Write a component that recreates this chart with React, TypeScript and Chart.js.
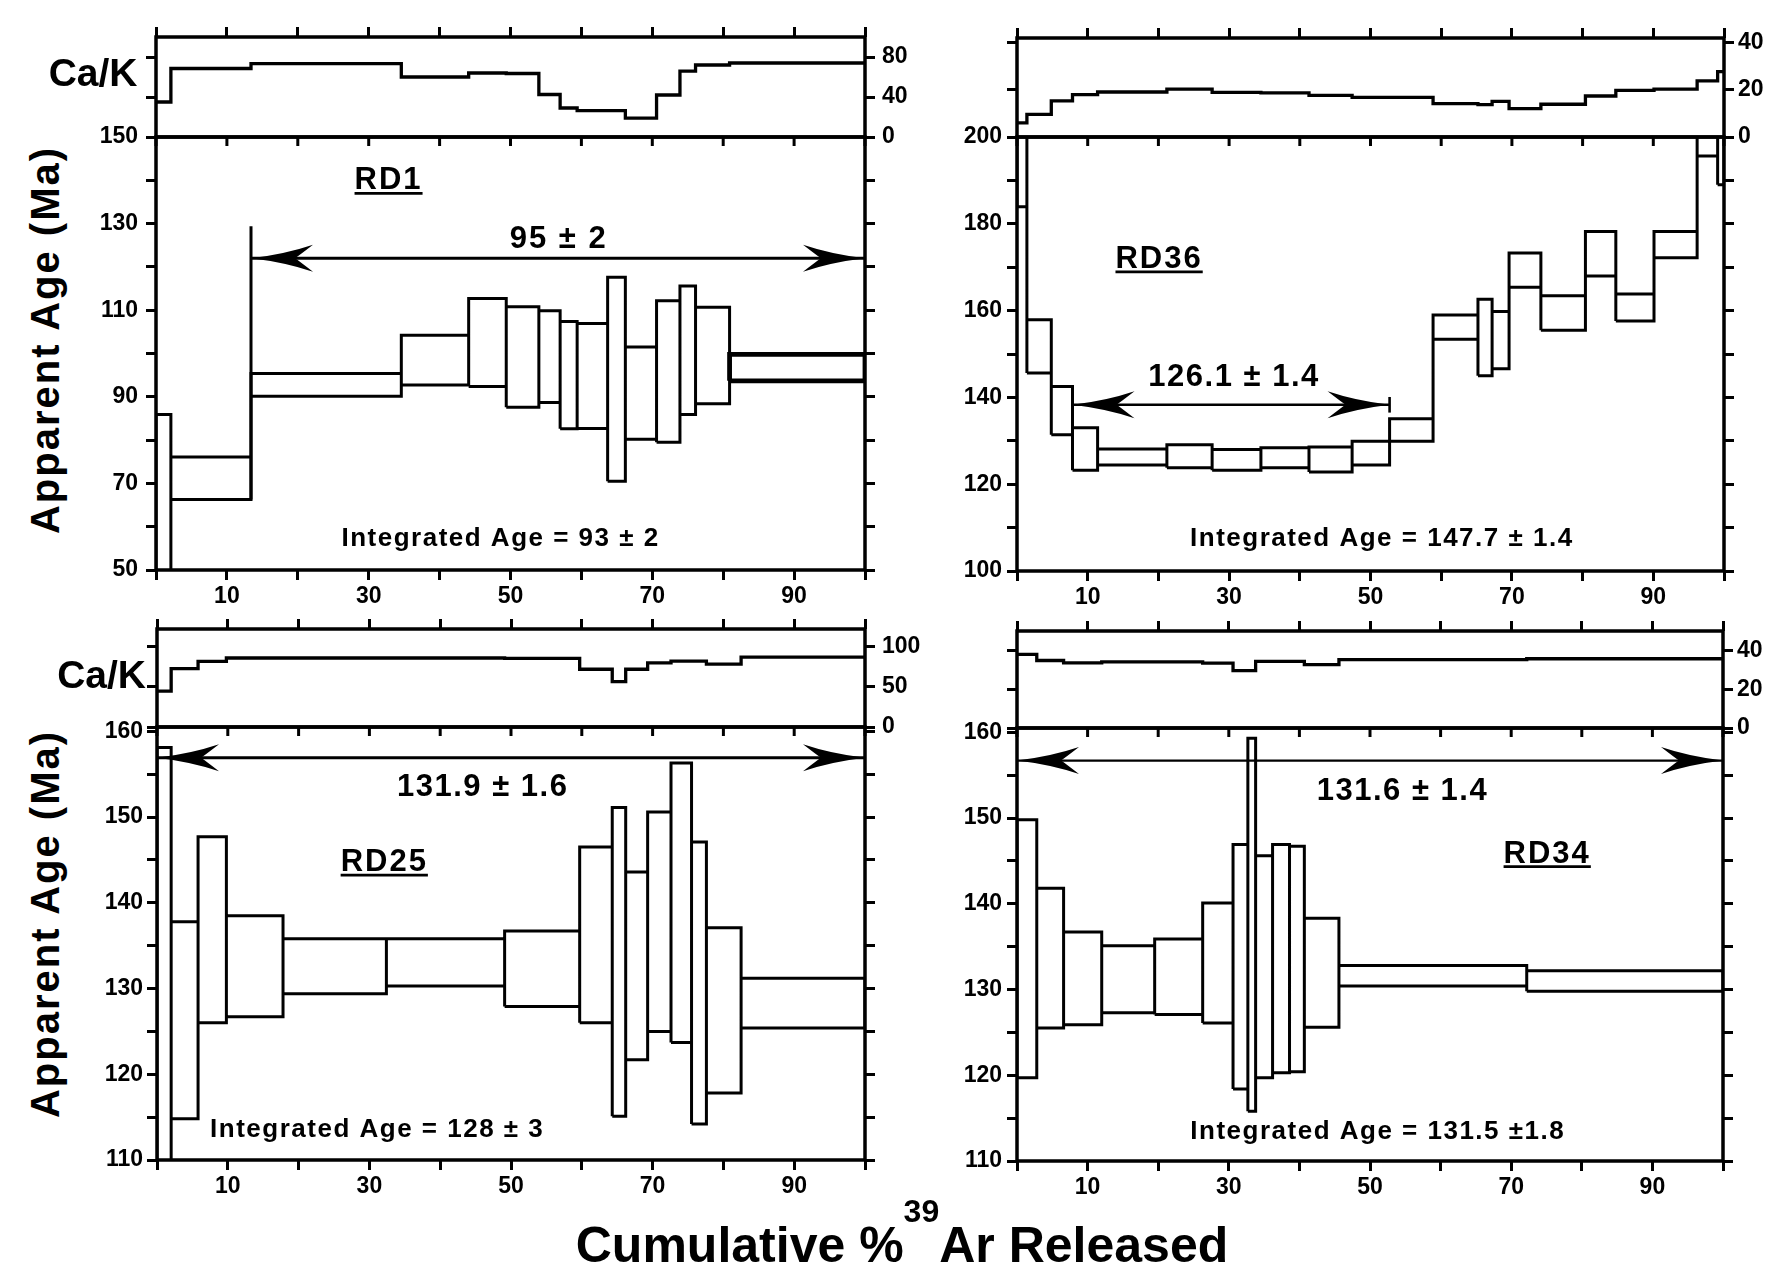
import React, { useEffect, useRef } from 'react';
import { Chart, registerables } from 'chart.js';

Chart.register(...registerables);

const FONT = '"Liberation Sans", Arial, Helvetica, sans-serif';

// ---------------- RD1 (top-left) ----------------
const rd1Steps = [0, 2.1, 13.4, 34.6, 44.1, 49.4, 54.0, 57.0, 59.4, 63.7, 66.2, 70.6, 73.9, 76.1, 80.9, 100];
const rd1AgeLow = [45, 66.3, 90.1, 92.7, 92.4, 87.6, 88.7, 82.6, 82.7, 70.5, 80.2, 79.5, 85.9, 88.4, 93.7];
const rd1AgeHigh = [85.9, 76.1, 95.4, 104.2, 112.7, 110.8, 109.9, 107.4, 106.9, 117.6, 101.5, 112.2, 115.6, 110.7, 99.8];
const rd1CaK = [35, 68.5, 73.3, 60, 64, 63.5, 42.5, 29, 26.3, 26.3, 18.8, 42, 65.8, 72, 74];
const rd1Plateau = [13.4, 100, 122];
const rd1Marker = [13.4, 66.3, 129.4];

// ---------------- RD36 (top-right) ----------------
const rd36Steps = [0, 1.4, 4.85, 7.85, 11.4, 21.2, 27.6, 34.5, 41.3, 47.4, 52.7, 58.85, 65.2, 67.2, 69.6, 74.1, 80.4, 84.7, 90.1, 96.2, 99.1, 100];
const rd36AgeLow = [183.9, 145.6, 131.4, 123.2, 124.4, 123.8, 123.2, 123.8, 122.8, 124.4, 129.9, 153.4, 145.0, 146.6, 165.4, 155.5, 168.0, 157.6, 172.2, 195.6, 189.0];
const rd36AgeHigh = [215, 157.9, 142.5, 133.0, 128.1, 129.1, 128.0, 128.4, 128.6, 129.9, 135.1, 159.0, 162.6, 159.8, 173.3, 163.4, 178.2, 163.8, 178.2, 215, 215];
const rd36CaK = [6.0, 9.6, 15.3, 18.0, 19.1, 20.3, 18.9, 18.7, 17.7, 16.8, 16.8, 14.2, 13.7, 15.1, 12.0, 13.9, 17.4, 19.8, 20.3, 23.8, 27.7];
const rd36Plateau = [7.85, 52.7, 138.3];
const rd36EndTick = [52.7, 136.5, 140.1];

// ---------------- RD25 (bottom-left) ----------------
const rd25Steps = [0, 2.0, 5.8, 9.8, 17.8, 32.4, 49.1, 59.7, 64.3, 66.2, 69.3, 72.6, 75.5, 77.6, 82.5, 100];
const rd25AgeLow = [105, 114.8, 126.0, 126.7, 129.4, 130.3, 127.9, 126.0, 115.1, 121.7, 125.0, 123.7, 114.2, 117.8, 125.4];
const rd25AgeHigh = [158.1, 137.8, 147.7, 138.5, 135.8, 135.8, 136.7, 146.5, 151.1, 143.6, 150.6, 156.3, 147.1, 137.1, 131.2];
const rd25CaK = [44.6, 72.7, 81.6, 85.9, 85.9, 85.9, 85.5, 71.9, 56.6, 71.9, 79.9, 81.9, 81.9, 78.3, 87.1];
const rd25Plateau = [0, 100, 156.9];

// ---------------- RD34 (bottom-right) ----------------
const rd34Steps = [0, 2.8, 6.6, 12.0, 19.5, 26.3, 30.6, 32.7, 33.8, 36.2, 38.6, 40.7, 45.6, 72.2, 100];
const rd34AgeLow = [119.7, 125.5, 125.9, 127.3, 127.1, 126.1, 118.4, 115.8, 119.7, 120.3, 120.4, 125.6, 130.4, 129.8];
const rd34AgeHigh = [149.8, 141.8, 136.7, 135.1, 135.9, 140.1, 146.9, 159.3, 145.6, 146.9, 146.7, 138.3, 132.8, 132.2];
const rd34CaK = [38, 34.8, 33.6, 34.1, 34.1, 33.4, 29.6, 29.6, 34.3, 34.3, 34.3, 32.7, 35.2, 35.7];
const rd34Plateau = [0, 100, 156.7];

// x ticks every 10, labels on 10, 30, 50, 70, 90
const xTickStep = 10;

type Note = { text: string; x: number; y: number; size: number; spacing: number; underline?: boolean };

type Panel = {
  steps: number[]; low: number[]; high: number[]; cak: number[];
  plateau: number[]; marker: number[] | null; endTick: number[] | null;
  ageMin: number; ageMax: number; ageStep: number; labelBase: number; labelStep: number;
  cakMax: number; cakStep: number;
  plotL: number; plotR: number; caTop: number; mid: number; bottom: number;
  yPad: number; rPad: number; shaftWidth: number; lastBoxWidth: number;
  notes: Note[];
};

const PANELS: Panel[] = [
  {
    steps: rd1Steps, low: rd1AgeLow, high: rd1AgeHigh, cak: rd1CaK,
    plateau: rd1Plateau, marker: rd1Marker, endTick: null,
    ageMin: 50, ageMax: 150, ageStep: 10, labelBase: 50, labelStep: 20,
    cakMax: 100, cakStep: 40,
    plotL: 156, plotR: 865, caTop: 37, mid: 137, bottom: 570,
    yPad: 8, rPad: 7, shaftWidth: 3, lastBoxWidth: 4.8,
    notes: [
      { text: 'RD1', x: 32.8, y: 140.5, size: 31, spacing: 2, underline: true },
      { text: '95 ± 2', x: 56.8, y: 127, size: 31, spacing: 2 },
      { text: 'Integrated Age = 93 ± 2', x: 48.6, y: 57.7, size: 26, spacing: 1.5 },
    ],
  },
  {
    steps: rd36Steps, low: rd36AgeLow, high: rd36AgeHigh, cak: rd36CaK,
    plateau: rd36Plateau, marker: null, endTick: rd36EndTick,
    ageMin: 100, ageMax: 200, ageStep: 10, labelBase: 100, labelStep: 20,
    cakMax: 42, cakStep: 20,
    plotL: 1017, plotR: 1724, caTop: 38, mid: 137, bottom: 571,
    yPad: 5, rPad: 4, shaftWidth: 2.4, lastBoxWidth: 0,
    notes: [
      { text: 'RD36', x: 20.1, y: 172.4, size: 31, spacing: 2, underline: true },
      { text: '126.1 ± 1.4', x: 30.7, y: 145.2, size: 31, spacing: 1.5 },
      { text: 'Integrated Age = 147.7 ± 1.4', x: 51.6, y: 108, size: 26, spacing: 1.5 },
    ],
  },
  {
    steps: rd25Steps, low: rd25AgeLow, high: rd25AgeHigh, cak: rd25CaK,
    plateau: rd25Plateau, marker: null, endTick: null,
    ageMin: 110, ageMax: 160.5, ageStep: 5, labelBase: 110, labelStep: 10,
    cakMax: 122, cakStep: 50,
    plotL: 157, plotR: 865, caTop: 629, mid: 727, bottom: 1160,
    yPad: 4, rPad: 7, shaftWidth: 3, lastBoxWidth: 0,
    notes: [
      { text: 'RD25', x: 32.1, y: 145, size: 31, spacing: 2, underline: true },
      { text: '131.9 ± 1.6', x: 46, y: 153.7, size: 31, spacing: 1.5 },
      { text: 'Integrated Age = 128 ± 3', x: 31.1, y: 113.8, size: 26, spacing: 1.5 },
    ],
  },
  {
    steps: rd34Steps, low: rd34AgeLow, high: rd34AgeHigh, cak: rd34CaK,
    plateau: rd34Plateau, marker: null, endTick: null,
    ageMin: 110, ageMax: 160.5, ageStep: 5, labelBase: 110, labelStep: 10,
    cakMax: 50, cakStep: 20,
    plotL: 1017, plotR: 1723, caTop: 631, mid: 728, bottom: 1161,
    yPad: 5, rPad: 4, shaftWidth: 2.4, lastBoxWidth: 0,
    notes: [
      { text: 'RD34', x: 75.1, y: 146.1, size: 31, spacing: 2, underline: true },
      { text: '131.6 ± 1.4', x: 54.6, y: 153.4, size: 31, spacing: 1.5 },
      { text: 'Integrated Age = 131.5 ±1.8', x: 51.1, y: 113.6, size: 26, spacing: 1.5 },
    ],
  },
];

// canvas geometry (margins around each plot area)
const AGE = { PL: 80, PR: 24, PB: 52, PADT: 32 };
const CAK = { PL: 80, PR: 70, PT: 32, PADB: 32 };

function ageRect(p: Panel) {
  return {
    left: p.plotL - AGE.PL,
    top: p.mid - AGE.PADT,
    width: p.plotR - p.plotL + AGE.PL + AGE.PR,
    height: p.bottom - p.mid + AGE.PADT + AGE.PB,
  };
}
function cakRect(p: Panel) {
  return {
    left: p.plotL - CAK.PL,
    top: p.caTop - CAK.PT,
    width: p.plotR - p.plotL + CAK.PL + CAK.PR,
    height: p.mid - p.caTop + CAK.PT + CAK.PADB,
  };
}

function onePoly(x0: number, x1: number, lo: number, hi: number) {
  return [{ x: x0, y: lo }, { x: x0, y: hi }, { x: x1, y: hi }, { x: x1, y: lo }, { x: x0, y: lo }, { x: x1, y: null }];
}

// boxes (closed outlines) plus vertical connectors between neighbouring steps
function boxPoints(steps: number[], low: number[], high: number[]) {
  const pts: any[] = [];
  for (let i = 0; i < low.length; i++) {
    pts.push(...onePoly(steps[i], steps[i + 1], low[i], high[i]));
    if (i > 0) {
      pts.push({ x: steps[i], y: Math.min(low[i - 1], low[i]) }, { x: steps[i], y: Math.max(high[i - 1], high[i]) }, { x: steps[i], y: null });
    }
  }
  return pts;
}
function stepPoints(steps: number[], vals: number[]) {
  const pts = vals.map((v, i) => ({ x: steps[i], y: v }));
  pts.push({ x: steps[steps.length - 1], y: vals[vals.length - 1] });
  return pts;
}

const tickFont = { family: FONT, size: 23, weight: 'bold' as const };
const gridOpts = { drawOnChartArea: false, drawTicks: true, tickLength: 10, color: '#000', lineWidth: 3 };

function framePlugin(innerTop: boolean) {
  return {
    id: 'frame',
    afterDraw(chart: any) {
      const { ctx, chartArea: a } = chart;
      ctx.save();
      ctx.strokeStyle = '#000';
      ctx.lineWidth = 3.5;
      ctx.strokeRect(a.left, a.top, a.right - a.left, a.bottom - a.top);
      if (innerTop) {
        const xs = chart.scales.x;
        ctx.lineWidth = 3;
        xs.ticks.forEach((t: any) => {
          const px = xs.getPixelForValue(t.value);
          ctx.beginPath();
          ctx.moveTo(px, a.top);
          ctx.lineTo(px, a.top + 9);
          ctx.stroke();
        });
      }
      ctx.restore();
    },
  };
}

function drawHead(ctx: CanvasRenderingContext2D, tipX: number, y: number, dir: number) {
  const L = 62, H = 13.5, N = 44;
  ctx.beginPath();
  ctx.moveTo(tipX, y);
  ctx.quadraticCurveTo(tipX + dir * L * 0.55, y - H * 0.3, tipX + dir * L, y - H);
  ctx.quadraticCurveTo(tipX + dir * (N + 4), y - H * 0.2, tipX + dir * N, y);
  ctx.quadraticCurveTo(tipX + dir * (N + 4), y + H * 0.2, tipX + dir * L, y + H);
  ctx.quadraticCurveTo(tipX + dir * L * 0.55, y + H * 0.3, tipX, y);
  ctx.closePath();
  ctx.fill();
}

function notesPlugin(p: Panel) {
  return {
    id: 'notes',
    afterDatasetsDraw(chart: any) {
      const { ctx } = chart;
      const xs = chart.scales.x, ys = chart.scales.y;
      ctx.save();
      ctx.fillStyle = '#000';
      ctx.strokeStyle = '#000';
      const ay = ys.getPixelForValue(p.plateau[2]);
      drawHead(ctx, xs.getPixelForValue(p.plateau[0]), ay, 1);
      drawHead(ctx, xs.getPixelForValue(p.plateau[1]), ay, -1);
      for (const n of p.notes) {
        ctx.font = `bold ${n.size}px ${FONT}`;
        (ctx as any).letterSpacing = `${n.spacing}px`;
        ctx.textAlign = 'center';
        ctx.textBaseline = 'alphabetic';
        const px = xs.getPixelForValue(n.x);
        const py = ys.getPixelForValue(n.y) + n.size * 0.36;
        ctx.fillText(n.text, px, py);
        if (n.underline) {
          const w = ctx.measureText(n.text).width;
          ctx.lineWidth = 2.8;
          ctx.beginPath();
          ctx.moveTo(px - w / 2, py + 4);
          ctx.lineTo(px + w / 2, py + 4);
          ctx.stroke();
        }
      }
      ctx.restore();
    },
  };
}

function lineDs(data: any[], width: number) {
  return { data, borderColor: '#000', borderWidth: width, pointRadius: 0, tension: 0, fill: false, borderJoinStyle: 'miter', spanGaps: false };
}

function makeAgeChart(canvas: HTMLCanvasElement, p: Panel) {
  const n = p.low.length;
  const datasets: any[] = [
    lineDs(boxPoints(p.steps, p.low, p.high), 3),
    lineDs([{ x: p.plateau[0], y: p.plateau[2] }, { x: p.plateau[1], y: p.plateau[2] }], p.shaftWidth),
  ];
  if (p.lastBoxWidth > 0) datasets.push(lineDs(onePoly(p.steps[n - 1], p.steps[n], p.low[n - 1], p.high[n - 1]), p.lastBoxWidth));
  if (p.marker) datasets.push(lineDs([{ x: p.marker[0], y: p.marker[1] }, { x: p.marker[0], y: p.marker[2] }], 3));
  if (p.endTick) datasets.push(lineDs([{ x: p.endTick[0], y: p.endTick[1] }, { x: p.endTick[0], y: p.endTick[2] }], 2.6));
  return new Chart(canvas, {
    type: 'line',
    data: { datasets },
    options: {
      animation: false,
      responsive: false,
      events: [],
      layout: { padding: { top: AGE.PADT, left: 0, right: 0, bottom: 0 } },
      plugins: { legend: { display: false }, tooltip: { enabled: false } },
      scales: {
        x: {
          type: 'linear', position: 'bottom', min: 0, max: 100,
          ticks: {
            stepSize: xTickStep, autoSkip: false, maxRotation: 0, color: '#000', font: tickFont, padding: 3,
            callback: (v: any) => (Math.round(v / xTickStep) % 2 === 1 ? String(v) : ''),
          },
          grid: gridOpts, border: { display: false },
          afterFit: (s: any) => { s.height = AGE.PB; },
        },
        y: {
          type: 'linear', position: 'left', min: p.ageMin, max: p.ageMax,
          ticks: {
            stepSize: p.ageStep, autoSkip: false, includeBounds: false, color: '#000', font: tickFont, padding: p.yPad,
            callback: (v: any) => (Math.round(v - p.labelBase) % p.labelStep === 0 ? String(v) : ''),
          },
          grid: gridOpts, border: { display: false },
          afterFit: (s: any) => { s.width = AGE.PL; },
        },
        yr: {
          type: 'linear', position: 'right', min: p.ageMin, max: p.ageMax,
          ticks: { stepSize: p.ageStep, display: false, includeBounds: false },
          grid: gridOpts, border: { display: false },
          afterFit: (s: any) => { s.width = AGE.PR; },
        },
      },
    } as any,
    plugins: [framePlugin(true), notesPlugin(p)],
  });
}

function makeCakChart(canvas: HTMLCanvasElement, p: Panel) {
  return new Chart(canvas, {
    type: 'line',
    data: {
      datasets: [{ ...lineDs(stepPoints(p.steps, p.cak), 3.3), stepped: true } as any],
    },
    options: {
      animation: false,
      responsive: false,
      events: [],
      layout: { padding: { top: 0, left: 0, right: 0, bottom: CAK.PADB } },
      plugins: { legend: { display: false }, tooltip: { enabled: false } },
      scales: {
        x: {
          type: 'linear', position: 'top', min: 0, max: 100,
          ticks: { stepSize: xTickStep, display: false },
          grid: gridOpts, border: { display: false },
          afterFit: (s: any) => { s.height = CAK.PT; },
        },
        y: {
          type: 'linear', position: 'left', min: 0, max: p.cakMax,
          ticks: { stepSize: p.cakStep, display: false, includeBounds: false },
          grid: gridOpts, border: { display: false },
          afterFit: (s: any) => { s.width = CAK.PL; },
        },
        yr: {
          type: 'linear', position: 'right', min: 0, max: p.cakMax,
          ticks: { stepSize: p.cakStep, includeBounds: false, color: '#000', font: tickFont, padding: p.rPad },
          grid: gridOpts, border: { display: false },
          afterFit: (s: any) => { s.width = CAK.PR; },
        },
      },
    } as any,
    plugins: [framePlugin(false)],
  });
}

const titleStyle: React.CSSProperties = {
  position: 'absolute',
  fontFamily: FONT,
  fontWeight: 'bold',
  lineHeight: 1,
  whiteSpace: 'nowrap',
  color: '#000',
};

export default function App() {
  const refs = useRef<(HTMLCanvasElement | null)[]>([]);

  useEffect(() => {
    const charts: Chart[] = [];
    PANELS.forEach((p, i) => {
      const c1 = refs.current[2 * i];
      const c2 = refs.current[2 * i + 1];
      if (c1) charts.push(makeCakChart(c1, p));
      if (c2) charts.push(makeAgeChart(c2, p));
    });
    return () => charts.forEach((c) => c.destroy());
  }, []);

  return (
    <div style={{ position: 'absolute', left: 0, top: 0, width: 1771, height: 1271, background: '#fff', overflow: 'hidden' }}>
      {PANELS.map((p, i) => {
        const cr = cakRect(p);
        const ar = ageRect(p);
        return (
          <React.Fragment key={i}>
            <canvas
              ref={(el) => { refs.current[2 * i] = el; }}
              width={cr.width}
              height={cr.height}
              style={{ position: 'absolute', left: cr.left, top: cr.top, display: 'block' }}
            />
            <canvas
              ref={(el) => { refs.current[2 * i + 1] = el; }}
              width={ar.width}
              height={ar.height}
              style={{ position: 'absolute', left: ar.left, top: ar.top, display: 'block' }}
            />
          </React.Fragment>
        );
      })}
      <div style={{ ...titleStyle, fontSize: 39, left: 137.5, top: 72, transform: 'translate(-100%,-50%)' }}>Ca/K</div>
      <div style={{ ...titleStyle, fontSize: 39, left: 146, top: 674, transform: 'translate(-100%,-50%)' }}>Ca/K</div>
      <div style={{ ...titleStyle, fontSize: 40, letterSpacing: 2, left: 45, top: 340, transform: 'translate(-50%,-50%) rotate(-90deg)' }}>Apparent Age (Ma)</div>
      <div style={{ ...titleStyle, fontSize: 40, letterSpacing: 2, left: 45, top: 924, transform: 'translate(-50%,-50%) rotate(-90deg)' }}>Apparent Age (Ma)</div>
      <div style={{ ...titleStyle, fontSize: 50, left: 902, top: 1245, transform: 'translate(-50%,-50%)' }}>
        Cumulative %<span style={{ fontSize: 32, position: 'relative', top: -40 }}>39</span>Ar Released
      </div>
    </div>
  );
}
